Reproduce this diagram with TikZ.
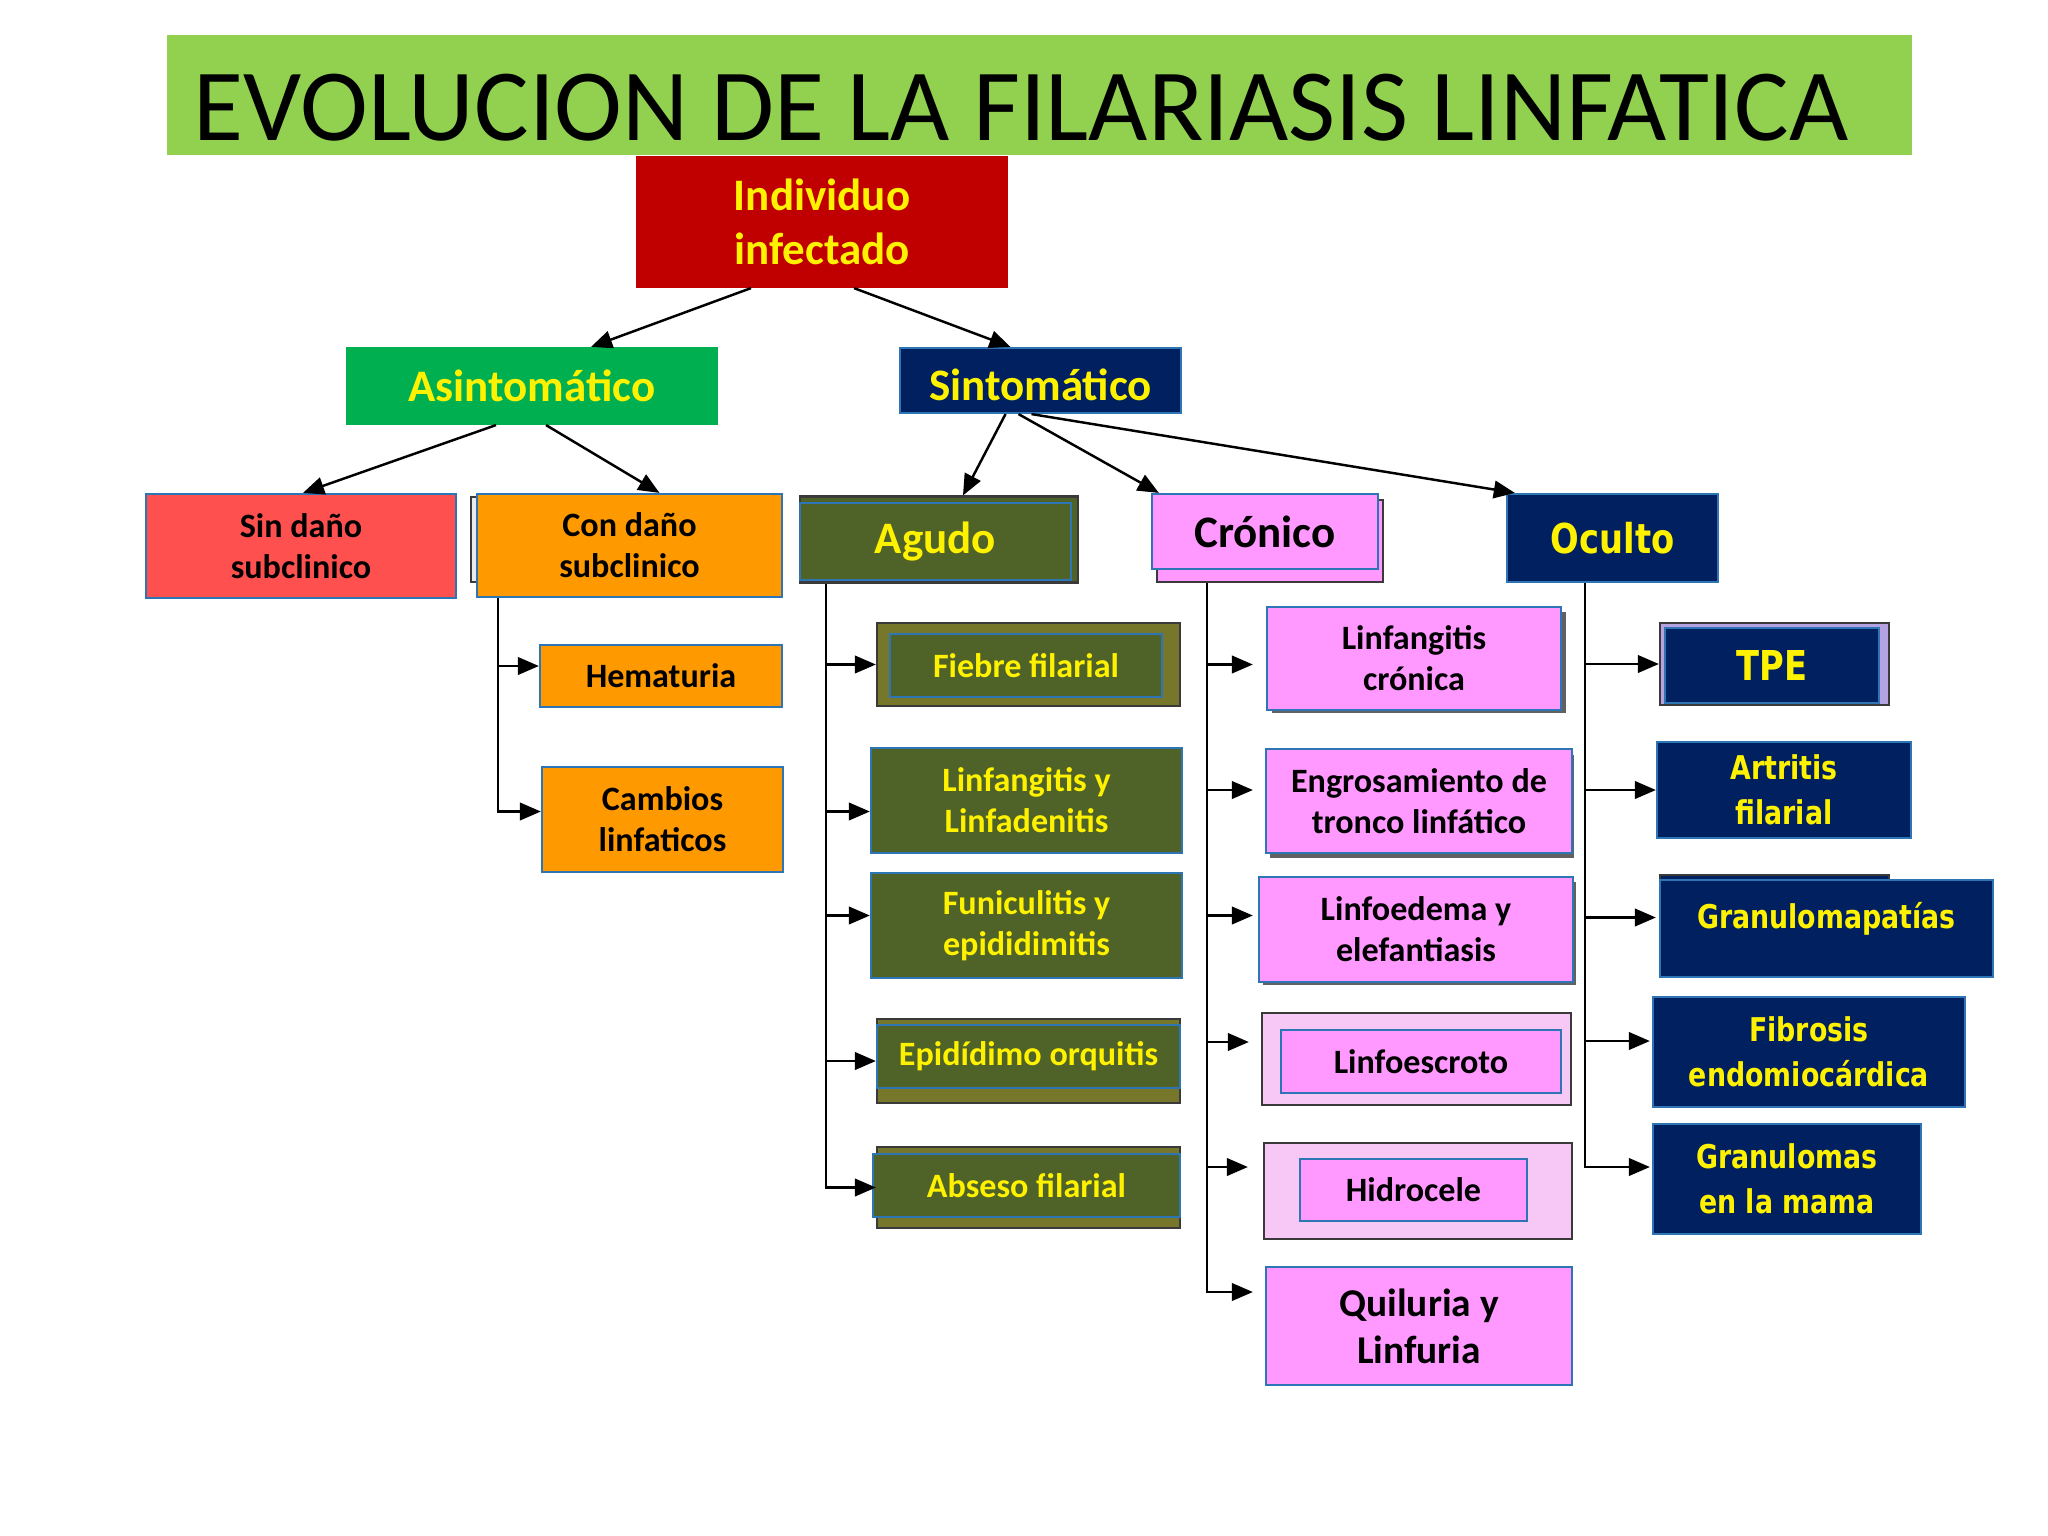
\documentclass[tikz,border=0pt]{standalone}
\usepackage{fontspec}
\setmainfont{Carlito}
\newfontfamily\verd[FakeStretch=0.82]{DejaVu Sans}
\usetikzlibrary{arrows.meta,calc}

\definecolor{titlegreen}{HTML}{92D050}
\definecolor{infred}{HTML}{C00000}
\definecolor{asgreen}{HTML}{00B050}
\definecolor{navy}{HTML}{002060}
\definecolor{sinred}{HTML}{FF5050}
\definecolor{orng}{HTML}{FF9900}
\definecolor{agolive}{HTML}{4F6228}
\definecolor{pnk}{HTML}{FF99FF}
\definecolor{lightpnk}{HTML}{F7C8F5}
\definecolor{khaki}{HTML}{77772C}
\definecolor{lav}{HTML}{B4A2E2}
\definecolor{edgeblue}{HTML}{2E75B6}
\definecolor{edgedark}{HTML}{3A3A3A}

\newcommand*{\ftitle}{\fontsize{29.1}{34}\selectfont}
\newcommand*{\fhead}{\fontsize{12.8}{15.2}\selectfont\bfseries}
\newcommand*{\fmid}{\fontsize{11.2}{13.3}\selectfont\bfseries}
\newcommand*{\fitem}{\fontsize{9.7}{11.7}\selectfont\bfseries}
\newcommand*{\fvhead}{\verd\fontsize{11.7}{14}\selectfont\bfseries}
\newcommand*{\fvitem}{\verd\fontsize{9.3}{12.8}\selectfont\bfseries}

\begin{document}
\begin{tikzpicture}
[
	x=0.01cm,y=-0.01cm,
	box/.style={draw=edgeblue,line width=0.6pt,inner sep=0pt,align=center},
	frame/.style={draw=edgedark,line width=0.6pt,inner sep=0pt},
	arr/.style={-{Triangle[length=6pt,width=5pt]},line width=0.7pt}
]

	\fill[white] (0,0) rectangle (2048,1536);
	\useasboundingbox (0,0) rectangle (2048,1536);

	% title
	\node[fill=titlegreen,minimum width=17.43cm,minimum height=1.2cm,inner sep=0pt] (titlebar) at (1039.5,95) {};
	\node[anchor=base west,inner sep=0pt,font=\ftitle] (title) at (193,140) {EVOLUCION DE LA FILARIASIS LINFATICA};

	% top levels
	\node[box,draw=infred,fill=infred,text=yellow,font=\fhead,minimum width=3.7cm,minimum height=1.3cm] (ind) at (822,222) {Individuo\\infectado};
	\node[box,draw=asgreen,fill=asgreen,text=yellow,font=\fhead,minimum width=3.7cm,minimum height=0.76cm] (asin) at (532,386) {Asintomático};
	\node[box,fill=navy,text=yellow,font=\fhead,minimum width=2.81cm,inner ysep=0pt,text height=14.8pt,text depth=3.7pt] (sin) at (1040.5,380.5) {Sintomático};

	% asintomatico
	\node[box,fill=sinred,font=\fitem,minimum width=3.1cm,minimum height=1.04cm] (sindano) at (301,546) {Sin daño\\subclinico};
	\fill[white!92!black,draw=edgedark,line width=0.6pt] (471,497) rectangle (770,582);
	\node[box,fill=orng,font=\fitem,minimum width=3.05cm,minimum height=1.03cm] (condano) at (629.5,545.5) {Con daño\\subclinico};
	\node[box,fill=orng,font=\fitem,minimum width=2.42cm,minimum height=0.62cm] (hema) at (661,676) {Hematuria};
	\node[box,fill=orng,font=\fitem,minimum width=2.41cm,minimum height=1.05cm] (cambios) at (662.5,819.5) {Cambios\\linfaticos};

	% agudo
	\node[frame,fill=agolive,minimum width=2.78cm,minimum height=0.86cm] (agudoframe) at (939,539.5) {};
	\node[box,fill=agolive,text=yellow,font=\fhead,minimum width=2.71cm,minimum height=0.77cm] (agudo) at (935.5,541.5) {Agudo};
	\node[frame,fill=khaki,minimum width=3.03cm,minimum height=0.83cm] (fiebreframe) at (1028.5,664.5) {};
	\node[box,fill=agolive,text=yellow,font=\fitem,minimum width=2.72cm,minimum height=0.63cm] (fiebre) at (1026,665.5) {Fiebre filarial};
	\node[box,fill=agolive,text=yellow,font=\fitem,minimum width=3.11cm,minimum height=1.05cm] (linfad) at (1026.5,800.5) {Linfangitis y\\Linfadenitis};
	\node[box,fill=agolive,text=yellow,font=\fitem,minimum width=3.11cm,minimum height=1.05cm] (funic) at (1026.5,925.5) {Funiculitis y\\epididimitis};
	\node[frame,fill=khaki,minimum width=3.03cm,minimum height=0.84cm] (epidframe) at (1028.5,1061) {};
	\node[box,fill=agolive,text=yellow,font=\fitem,minimum width=3.03cm,minimum height=0.63cm] (epid) at (1028.5,1056.5) {Epidídimo orquitis};
	\node[frame,fill=khaki,minimum width=3.03cm,minimum height=0.81cm] (absframe) at (1028.5,1187.5) {};
	\node[box,fill=agolive,text=yellow,font=\fitem,minimum width=3.07cm,minimum height=0.63cm] (abseso) at (1026.5,1185.5) {Abseso filarial};

	% cronico
	\node[frame,fill=pnk,minimum width=2.26cm,minimum height=0.82cm] (cronframe) at (1270,541) {};
	\node[box,fill=pnk,font=\fhead,minimum width=2.26cm,minimum height=0.75cm] (cron) at (1265,531.5) {Crónico};
	\fill[edgedark!80] (1272,612) rectangle (1566,713);
	\node[box,fill=pnk,font=\fitem,minimum width=2.94cm,minimum height=1.03cm] (lcron) at (1414,658.5) {Linfangitis\\crónica};
	\fill[edgedark!80] (1270,755) rectangle (1574,858);
	\node[box,fill=pnk,font=\fitem,minimum width=3.06cm,minimum height=1.04cm] (engros) at (1419,801) {Engrosamiento de\\tronco linfático};
	\fill[edgedark!80] (1263,882) rectangle (1576,985);
	\node[box,fill=pnk,font=\fitem,minimum width=3.14cm,minimum height=1.05cm] (linfoed) at (1416,929.5) {Linfoedema y\\elefantiasis};
	\node[frame,fill=lightpnk,minimum width=3.09cm,minimum height=0.92cm] (escrframe) at (1416.5,1059) {};
	\node[box,fill=pnk,font=\fitem,minimum width=2.8cm,minimum height=0.63cm] (escroto) at (1421,1061.5) {Linfoescroto};
	\node[frame,fill=lightpnk,minimum width=3.08cm,minimum height=0.96cm] (hidroframe) at (1418,1191) {};
	\node[box,fill=pnk,font=\fitem,minimum width=2.27cm,minimum height=0.62cm] (hidro) at (1413.5,1190) {Hidrocele};
	\node[box,fill=pnk,font=\fmid,minimum width=3.06cm,minimum height=1.18cm] (quil) at (1419,1326) {Quiluria y\\Linfuria};

	% oculto
	\node[box,fill=navy,text=yellow,font=\fvhead,minimum width=2.11cm,minimum height=0.88cm] (oculto) at (1612.5,538) {Oculto};
	\node[frame,fill=lav,minimum width=2.29cm,minimum height=0.82cm] (tpeframe) at (1774.5,664) {};
	\node[box,fill=navy,text=yellow,font=\fvhead,minimum width=2.14cm,minimum height=0.75cm] (tpe) at (1772,665.5) {TPE};
	\node[box,fill=navy,text=yellow,font=\fvitem,minimum width=2.54cm,minimum height=0.96cm] (artr) at (1784,790) {Artritis\\filarial};
	\fill[navy,draw=edgedark,line width=0.6pt] (1660,875) rectangle (1889,975);
	\node[box,fill=navy,text=yellow,font=\fvitem,minimum width=3.33cm,inner ysep=0pt,text height=13.7pt,text depth=13.9pt] (granpat) at (1826.5,928.5) {Granulomapatías};
	\node[box,fill=navy,text=yellow,font=\fvitem,minimum width=3.12cm,minimum height=1.1cm] (fibro) at (1809,1052) {Fibrosis\\endomiocárdica};
	\node[box,fill=navy,text=yellow,font=\fvitem,minimum width=2.68cm,minimum height=1.1cm] (granmama) at (1787,1179) {Granulomas\\en la mama};

	% connectors from the top
	\draw[arr] ($(ind.south)+(-71,0)$) -- ($(asin.north)+(59,0)$);
	\draw[arr] ($(ind.south)+(32,0)$) -- ($(sin.north)+(-30,0)$);
	\draw[arr] ($(asin.south)+(-36,0)$) -- ($(sindano.north)+(2,0)$);
	\draw[arr] ($(asin.south)+(14,0)$) -- ($(condano.north)+(30,0)$);
	\draw[arr] ($(sin.south)+(-35,0)$) -- ($(agudoframe.north)+(24,0)$);
	\draw[arr] ($(sin.south)+(-22,0)$) -- ($(cron.north west)+(8,0)$);
	\draw[arr] ($(sin.south)+(-9,0)$) -- ($(oculto.north west)+(9,0)$);

	% trunks
	\draw[arr] ($(condano.south west)+(22,0)$) |- ($(hema.west)+(0,-10)$);
	\draw[arr] ($(condano.south west)+(22,0)$) |- ($(cambios.west)+(0,-8)$);

	\draw[arr] ($(agudoframe.south west)+(27,0)$) |- (fiebreframe.west);
	\draw[arr] ($(agudoframe.south west)+(27,0)$) |- ($(linfad.west)+(0,11)$);
	\draw[arr] ($(agudoframe.south west)+(27,0)$) |- ($(funic.west)+(0,-10)$);
	\draw[arr] ($(agudoframe.south west)+(27,0)$) |- (epidframe.west);
	\draw[arr] ($(agudoframe.south west)+(27,0)$) |- (absframe.west);

	\draw[arr] ($(cronframe.south west)+(51,0)$) |- ($(lcron.west)+(-13,6)$);
	\draw[arr] ($(cronframe.south west)+(51,0)$) |- ($(engros.west)+(-12,-11)$);
	\draw[arr] ($(cronframe.south west)+(51,0)$) |- ($(linfoed.west)+(-5,-14)$);
	\draw[arr] ($(cronframe.south west)+(51,0)$) |- ($(escrframe.west)+(-12,-17)$);
	\draw[arr] ($(cronframe.south west)+(51,0)$) |- ($(hidroframe.west)+(-15,-24)$);
	\draw[arr] ($(cronframe.south west)+(51,0)$) |- ($(quil.west)+(-12,-34)$);

	\draw[arr] ($(oculto.south west)+(79,0)$) |- (tpeframe.west);
	\draw[arr] ($(oculto.south west)+(79,0)$) |- (artr.west);
	\draw[arr] ($(oculto.south west)+(79,0)$) |- ($(granpat.west)+(-3,-11)$);
	\draw[arr] ($(oculto.south west)+(79,0)$) |- ($(fibro.west)+(-2,-11)$);
	\draw[arr] ($(oculto.south west)+(79,0)$) |- ($(granmama.west)+(-2,-12)$);

\end{tikzpicture}
\end{document}
